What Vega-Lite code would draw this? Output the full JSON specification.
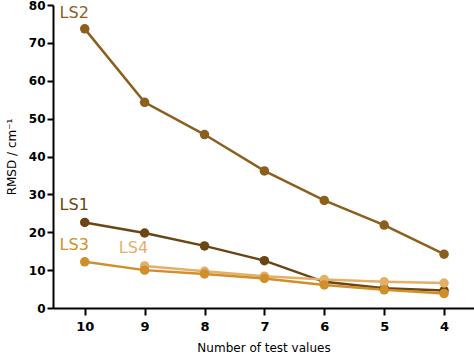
{
  "$schema": "https://vega.github.io/schema/vega-lite/v6.json",
  "width": 421,
  "height": 303,
  "autosize": {"type": "none"},
  "padding": {"left": 53, "top": 5, "right": 0, "bottom": 48},
  "background": "white",
  "config": {
    "view": {"stroke": null},
    "font": "DejaVu Sans",
    "axis": {
      "grid": false,
      "domainColor": "black",
      "domainWidth": 2,
      "tickColor": "black",
      "tickWidth": 2,
      "tickSize": 6,
      "labelFont": "DejaVu Sans",
      "labelFontSize": 12,
      "labelColor": "black",
      "labelFontWeight": "bold",
      "labelOverlap": false,
      "titleFont": "DejaVu Sans",
      "titleFontSize": 12,
      "titleFontWeight": "normal",
      "titleColor": "black"
    }
  },
  "datasets": {
    "series": [
      {"series": "LS2", "n": 10, "rmsd": 73.7},
      {"series": "LS2", "n": 9, "rmsd": 54.3},
      {"series": "LS2", "n": 8, "rmsd": 45.8},
      {"series": "LS2", "n": 7, "rmsd": 36.2},
      {"series": "LS2", "n": 6, "rmsd": 28.4},
      {"series": "LS2", "n": 5, "rmsd": 21.9},
      {"series": "LS2", "n": 4, "rmsd": 14.2},
      {"series": "LS1", "n": 10, "rmsd": 22.6},
      {"series": "LS1", "n": 9, "rmsd": 19.8},
      {"series": "LS1", "n": 8, "rmsd": 16.4},
      {"series": "LS1", "n": 7, "rmsd": 12.5},
      {"series": "LS1", "n": 6, "rmsd": 6.9},
      {"series": "LS1", "n": 5, "rmsd": 5.2},
      {"series": "LS1", "n": 4, "rmsd": 4.6},
      {"series": "LS4", "n": 9, "rmsd": 11.1},
      {"series": "LS4", "n": 8, "rmsd": 9.7},
      {"series": "LS4", "n": 7, "rmsd": 8.4},
      {"series": "LS4", "n": 6, "rmsd": 7.5},
      {"series": "LS4", "n": 5, "rmsd": 6.9},
      {"series": "LS4", "n": 4, "rmsd": 6.6},
      {"series": "LS3", "n": 10, "rmsd": 12.2},
      {"series": "LS3", "n": 9, "rmsd": 10.0},
      {"series": "LS3", "n": 8, "rmsd": 9.0},
      {"series": "LS3", "n": 7, "rmsd": 7.8},
      {"series": "LS3", "n": 6, "rmsd": 6.1},
      {"series": "LS3", "n": 5, "rmsd": 4.8},
      {"series": "LS3", "n": 4, "rmsd": 3.8}
    ],
    "labels": [
      {"series": "LS2", "n": 10.42, "rmsd": 78},
      {"series": "LS1", "n": 10.42, "rmsd": 27.2},
      {"series": "LS3", "n": 10.42, "rmsd": 16.6},
      {"series": "LS4", "n": 9.43, "rmsd": 15.8}
    ]
  },
  "encoding": {
    "x": {"field": "n", "type": "quantitative", "scale": {"domain": [3.5, 10.53], "reverse": true, "nice": false, "zero": false},
          "axis": {"values": [10, 9, 8, 7, 6, 5, 4], "format": "d", "title": "Number of test values", "tickSize": 7, "labelPadding": 5, "labelFontSize": 13, "titlePadding": 9}},
    "y": {"field": "rmsd", "type": "quantitative", "scale": {"domain": [0, 80], "nice": false},
          "axis": {"values": [0, 10, 20, 30, 40, 50, 60, 70, 80], "tickCount": 9, "format": "d", "title": "RMSD / cm⁻¹", "titlePadding": 10}},
    "color": {"field": "series", "type": "nominal", "legend": null,
              "scale": {"domain": ["LS1", "LS2", "LS3", "LS4"], "range": ["#6b4513", "#8c601c", "#d18f2c", "#e3b06a"]}}
  },
  "layer": [
    {
      "data": {"name": "series"},
      "mark": {"type": "line", "strokeWidth": 2.5},
      "encoding": {
        "order": {"field": "n", "type": "quantitative"}
      }
    },
    {
      "data": {"name": "series"},
      "mark": {"type": "point", "filled": true, "size": 90, "opacity": 1}
    },
    {
      "data": {"name": "labels"},
      "mark": {"type": "text", "align": "left", "baseline": "middle", "fontSize": 16, "font": "DejaVu Sans"},
      "encoding": {
        "text": {"field": "series"}
      }
    }
  ]
}
